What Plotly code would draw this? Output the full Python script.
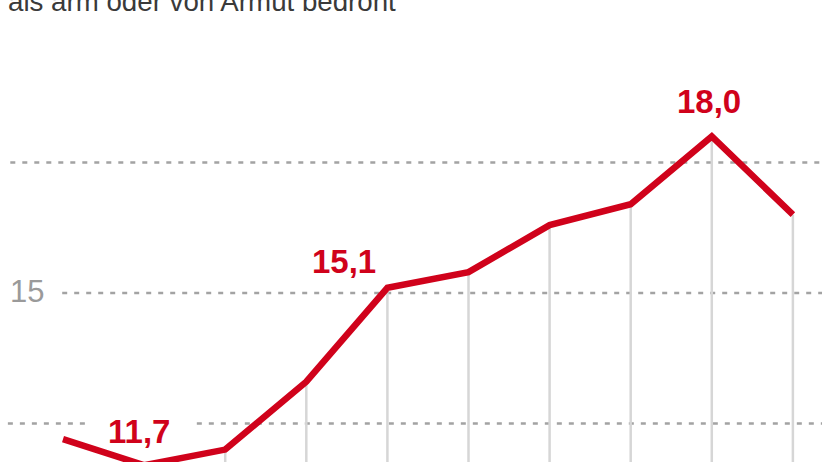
import plotly.graph_objects as go

# ---- data ----
years = [2005, 2006, 2007, 2008, 2009, 2010, 2011, 2012, 2013, 2014]
values = [12.2, 11.7, 12.0, 13.3, 15.1, 15.4, 16.3, 16.7, 18.0, 16.5]
labeled_idx = [1, 4, 8]
label_xshift = [-5, -43, -3]
label_yshift = [34, 26, 35]
grid_vals = [12.5, 15, 17.5]
grid_text = ["", "15", ""]
title_text = "als arm oder von Armut bedroht"

RED = "#d0021b"
FONT = "Liberation Sans, Arial, sans-serif"
W, H = 822, 462

x0 = years[0]
xr = [x0 - 0.777, x0 + 9.359]
yr = [11.762, 20.613]
px_per_unit = H / (yr[1] - yr[0])

fig = go.Figure()

shapes = []
grid_segments = {
    12.5: [(x0 - 0.68, x0 + 0.33), (x0 + 1.65, xr[1])],
    15: [(x0 - 0.01, xr[1])],
    17.5: [(x0 - 0.65, xr[1])],
}
for gv in grid_vals:
    for a, b in grid_segments[gv]:
        shapes.append(dict(type="line", xref="x", yref="y", x0=a, x1=b, y0=gv, y1=gv,
                           line=dict(color="#a3a3a3", width=2.5, dash="5px,7px"),
                           layer="below"))
for i, (yx, v) in enumerate(zip(years, values)):
    if i == 0:
        continue
    shapes.append(dict(type="line", xref="x", yref="y", x0=yx, x1=yx, y0=v, y1=yr[0] - 1,
                       line=dict(color="#d6d6d6", width=2.5), layer="below"))

fig.add_trace(go.Scatter(x=years, y=values, mode="lines",
                         line=dict(color=RED, width=6.5, shape="linear"),
                         hoverinfo="skip", cliponaxis=True))

annotations = []
for k, i in enumerate(labeled_idx):
    v = values[i]
    y_anchor = max(v, yr[0] + 0.05)
    extra = (y_anchor - v) * px_per_unit
    annotations.append(dict(x=years[i], y=y_anchor, xref="x", yref="y",
                            text=f"{v:.1f}".replace(".", ","),
                            showarrow=False, xanchor="center", yanchor="middle",
                            xshift=label_xshift[k], yshift=label_yshift[k] - extra,
                            font=dict(family=FONT, size=33, color=RED, weight="bold")))
for gv, gt in zip(grid_vals, grid_text):
    if gt:
        annotations.append(dict(x=0, y=gv, xref="paper", yref="y", text=gt,
                                showarrow=False, xanchor="left", yanchor="middle",
                                xshift=8, yshift=1,
                                font=dict(family=FONT, size=31, color="#9a9a9a")))
annotations.append(dict(x=0, y=1, xref="paper", yref="paper", text=title_text,
                        showarrow=False, xanchor="left", yanchor="bottom",
                        xshift=6, yshift=-19,
                        font=dict(family=FONT, size=27.7, color="#3a3a3a")))

fig.update_layout(
    width=W, height=H,
    margin=dict(l=0, r=0, t=0, b=0, pad=0),
    paper_bgcolor="white", plot_bgcolor="white",
    showlegend=False,
    shapes=shapes,
    annotations=annotations,
    xaxis=dict(range=xr, showgrid=False, zeroline=False, showticklabels=False,
               showline=False, ticks="", fixedrange=True),
    yaxis=dict(range=yr, showgrid=False, zeroline=False, showticklabels=False,
               showline=False, ticks="", fixedrange=True),
)

fig.write_html("out.html", config={"displayModeBar": False, "staticPlot": True},
               post_script="document.body.style.margin='0';document.body.style.overflow='hidden';")
